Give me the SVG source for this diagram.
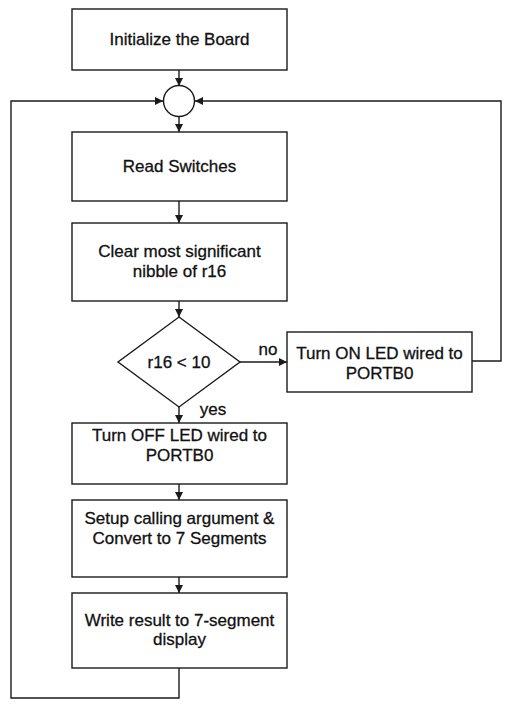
<svg xmlns="http://www.w3.org/2000/svg" width="510" height="705" viewBox="0 0 510 705">
<style>
.box{fill:#fff;stroke:#1a1a1a;stroke-width:1.4}
.t{font-family:"Liberation Sans",Arial,sans-serif;font-size:17px;fill:#111;stroke:#111;stroke-width:0.3;text-anchor:middle}
.c{fill:none;stroke:#1a1a1a;stroke-width:1.4}
</style>
<defs>
<marker id="ah" viewBox="0 0 10 10" refX="10" refY="5" markerWidth="8" markerHeight="9" markerUnits="userSpaceOnUse" orient="auto">
<path d="M0,0 L10,5 L0,10 z" fill="#1a1a1a"/>
</marker>
</defs>
<rect width="510" height="705" fill="#fff"/>
<g id="connectors">
<line class="c" x1="179" y1="70" x2="179" y2="86" marker-end="url(#ah)"/>
<line class="c" x1="179" y1="117" x2="179" y2="132" marker-end="url(#ah)"/>
<line class="c" x1="179" y1="201" x2="179" y2="223" marker-end="url(#ah)"/>
<line class="c" x1="179" y1="301" x2="179" y2="317" marker-end="url(#ah)"/>
<line class="c" x1="179" y1="407" x2="179" y2="423" marker-end="url(#ah)"/>
<line class="c" x1="179" y1="484" x2="179" y2="500" marker-end="url(#ah)"/>
<line class="c" x1="179" y1="577" x2="179" y2="593" marker-end="url(#ah)"/>
<line class="c" x1="240" y1="362" x2="287" y2="362" marker-end="url(#ah)"/>
<polyline class="c" points="472,361 501,361 501,101 195,101" marker-end="url(#ah)"/>
<polyline class="c" points="179,668 179,698 11,698 11,101 163,101" marker-end="url(#ah)"/>
<text class="t" x="268" y="355">no</text>
<text class="t" x="213" y="415">yes</text>
</g>
<g id="init">
<rect class="box" x="72" y="9" width="215" height="61"/>
<text class="t" x="179.5" y="45">Initialize the Board</text>
</g>
<g id="join">
<circle class="box" cx="179" cy="101" r="15.5"/>
</g>
<g id="read">
<rect class="box" x="72" y="132" width="215" height="69"/>
<text class="t" x="179.5" y="172">Read Switches</text>
</g>
<g id="clear">
<rect class="box" x="72" y="223" width="215" height="78"/>
<text class="t" x="179.5" y="257">Clear most significant</text>
<text class="t" x="179.5" y="277">nibble of r16</text>
</g>
<g id="decision">
<polygon class="box" points="179,317 240,362 179,407 118,362"/>
<text class="t" x="179" y="368">r16 &lt; 10</text>
</g>
<g id="turnon">
<rect class="box" x="287" y="332" width="185" height="60"/>
<text class="t" x="379.5" y="359">Turn ON LED wired to</text>
<text class="t" x="379.5" y="379">PORTB0</text>
</g>
<g id="turnoff">
<rect class="box" x="72" y="423" width="215" height="61"/>
<text class="t" x="179.5" y="441">Turn OFF LED wired to</text>
<text class="t" x="179.5" y="461">PORTB0</text>
</g>
<g id="setup">
<rect class="box" x="72" y="500" width="215" height="77"/>
<text class="t" x="179.5" y="524">Setup calling argument &amp;</text>
<text class="t" x="179.5" y="544">Convert to 7 Segments</text>
</g>
<g id="write">
<rect class="box" x="72" y="593" width="215" height="75"/>
<text class="t" x="179.5" y="626">Write result to 7-segment</text>
<text class="t" x="179.5" y="645">display</text>
</g>
</svg>
